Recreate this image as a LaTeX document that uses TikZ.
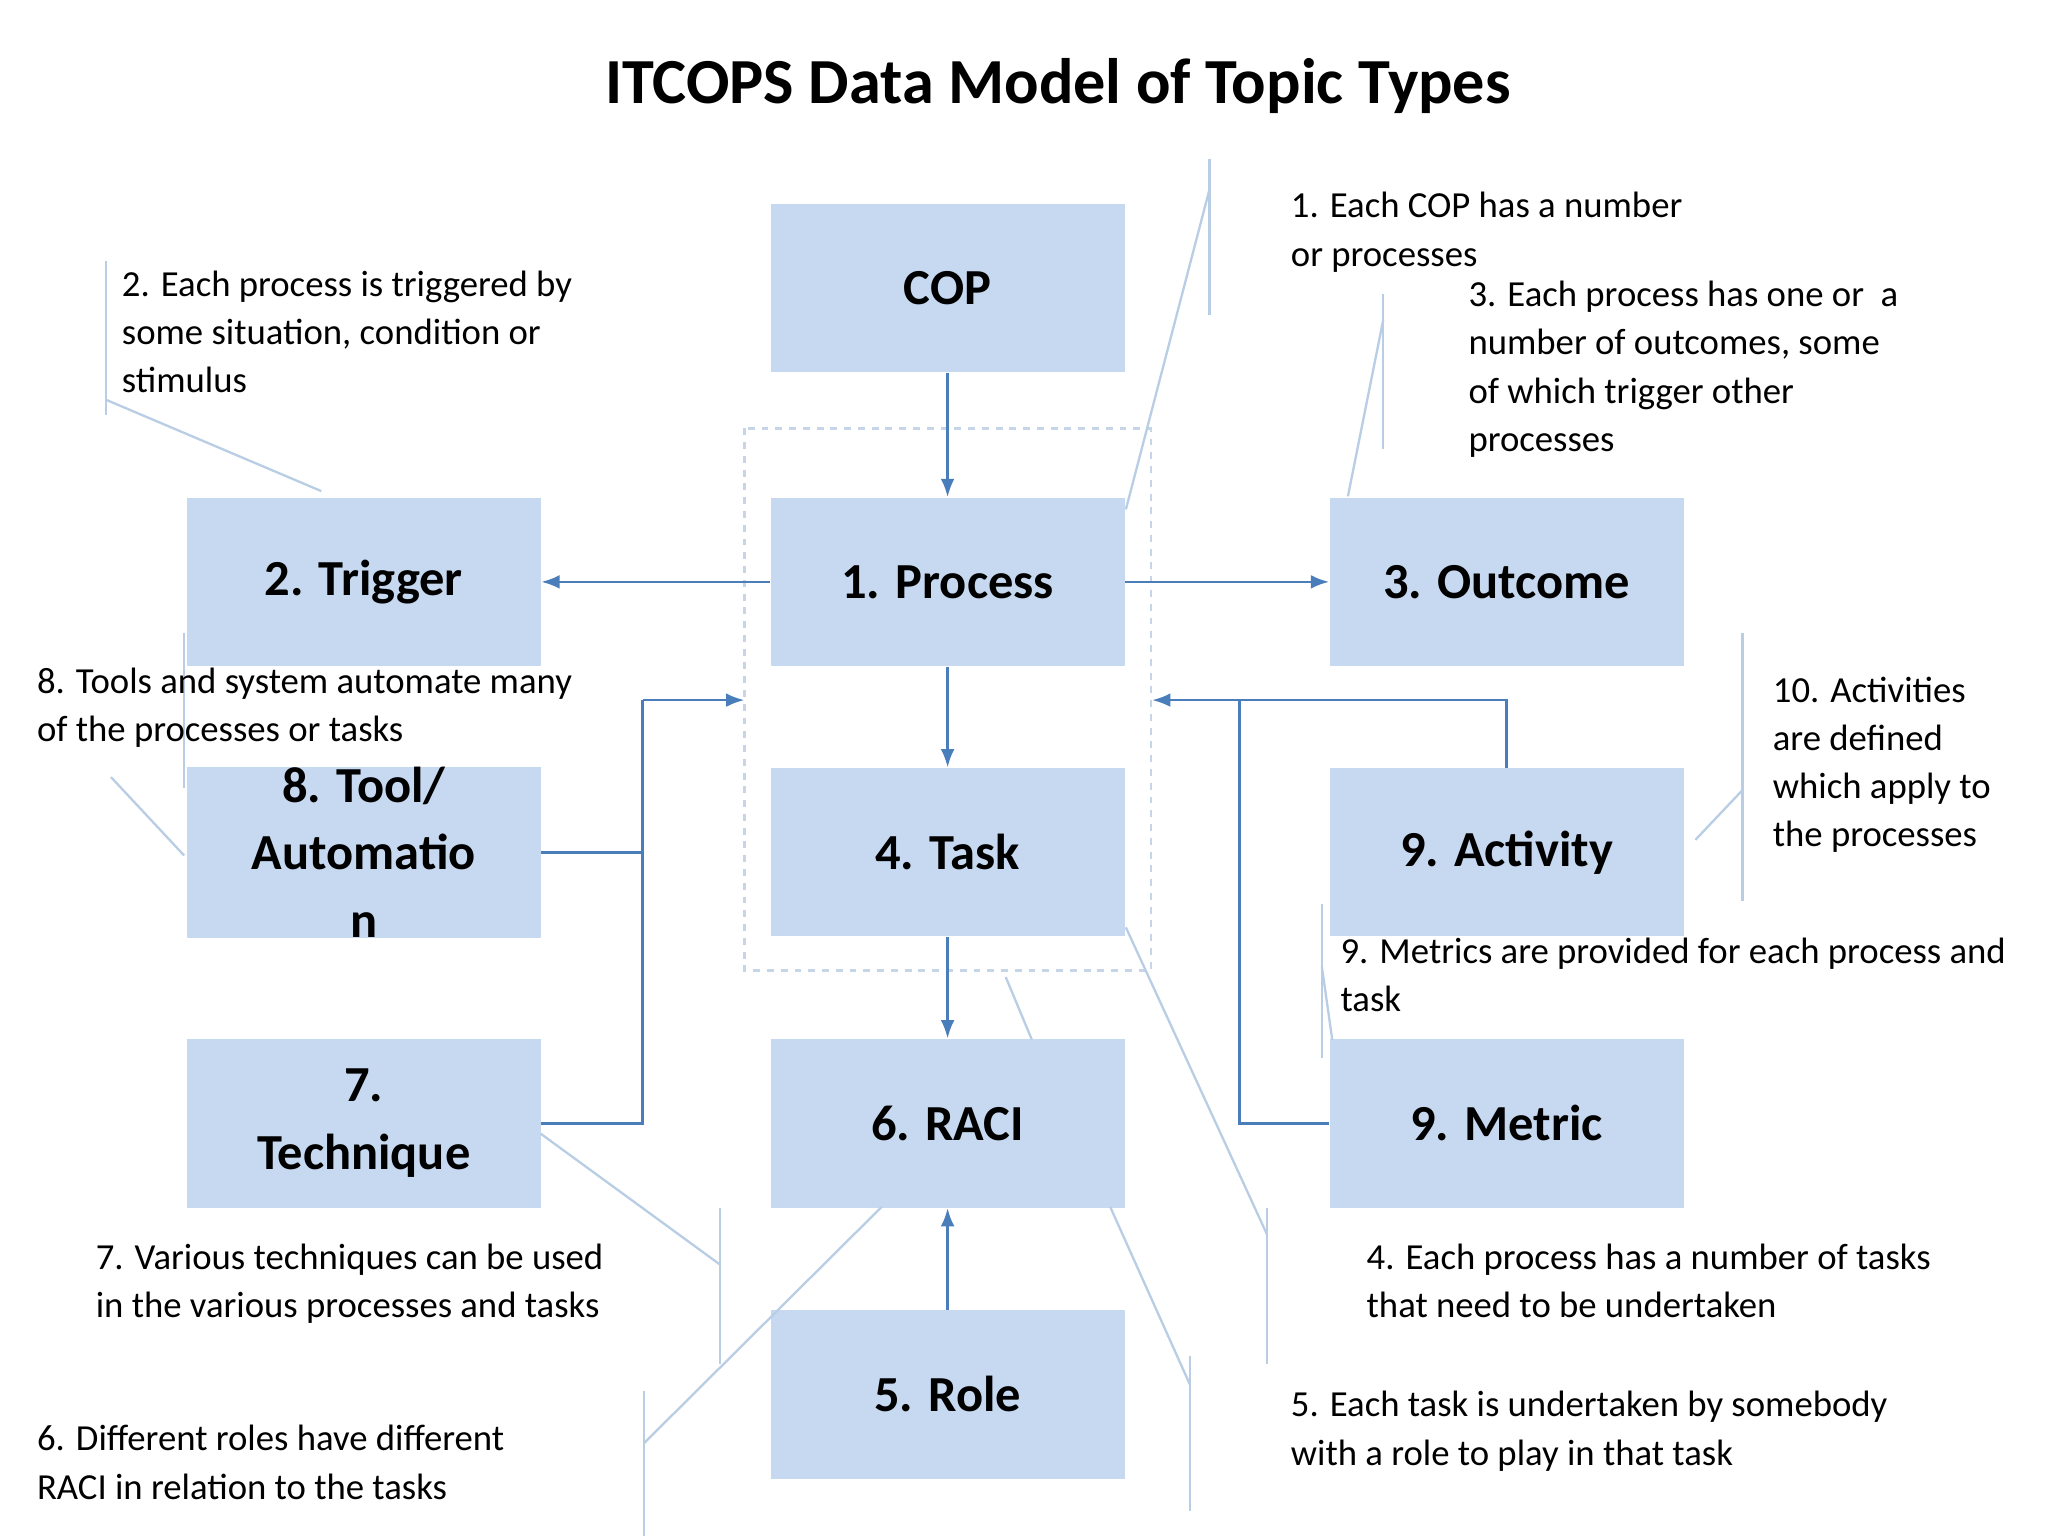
\documentclass[tikz,border=0pt]{standalone}
\usepackage{fontspec}
\setmainfont{Carlito}
\definecolor{boxfill}{HTML}{C6D9F0}
\definecolor{arr}{HTML}{4A7EBB}
\definecolor{pale}{HTML}{B9CDE5}
\definecolor{dashcol}{HTML}{C6D5E8}
\usetikzlibrary{arrows.meta}
\tikzset{
 tbox/.style={fill=boxfill,draw=none,minimum width=5.42cm,minimum height=2.58cm,font=\fontsize{22}{29.5}\selectfont\bfseries,align=center,inner sep=0pt},
 conn/.style={draw=arr,line width=1.2pt,-{Latex[length=8pt,width=6pt]}},
 plain/.style={draw=arr,line width=1.2pt},
 call/.style={draw=pale,line width=1pt},
 note/.style={anchor=north west,font=\fontsize{16}{21}\selectfont,align=left,inner sep=0pt}
}
\begin{document}
\begin{tikzpicture}[x=0.02cm,y=-0.02cm]
\useasboundingbox (0,0) rectangle (1568,1176);
\fill[white] (0,0) rectangle (1568,1176);
\node[font=\fontsize{28}{34}\selectfont\bfseries] (title) at (810,66) {ITCOPS Data Model of Topic Types};
\draw[dashcol,dashed,line width=1pt] (570,328) rectangle (881,743);
\node[tbox] (cop) at (725.5,220.5) {COP};
\node[tbox] (proc) at (725.5,445.5) {1. Process};
\node[tbox] (trig) at (278.5,445.5) {2. Trigger};
\node[tbox] (out) at (1153.5,445.5) {3. Outcome};
\node[tbox] (tool) at (278.5,652.5) {8. Tool/\\Automatio\\n};
\node[tbox] (task) at (725.5,652.5) {4. Task};
\node[tbox] (act) at (1153.5,652.5) {9. Activity};
\node[tbox] (tech) at (278.5,860) {7.\\Technique};
\node[tbox] (raci) at (725.5,860) {6. RACI};
\node[tbox] (met) at (1153.5,860) {9. Metric};
\node[tbox] (role) at (725.5,1067.5) {5. Role};
\coordinate (dl) at (570,536);
\coordinate (dr) at (882,536);
\draw[conn] (cop) -- (proc);
\draw[conn] (proc) -- (trig);
\draw[conn] (proc) -- (out);
\draw[conn] (proc) -- (task);
\draw[conn] (task) -- (raci);
\draw[conn] (role) -- (raci);
\draw[plain] (tool.east) -- (492,652.5);
\draw[plain] (tech.east) -- (492,860) -- (492,536);
\draw[conn] (492,536) -- (dl);
\draw[conn] (act.north) |- (dr);
\draw[plain] (met.west) -- (949,860) -- (949,536);
\draw[call] (926,122) -- (926,241); \draw[call] (926,145) -- (862,390);
\node[note] (n1) at (988,147) {1. Each COP has a number\\or processes};
\draw[call] (81,200) -- (81,318); \draw[call] (81,306) -- (246,376);
\node[note] (n2) at (93,207) {2. Each process is triggered by\\some situation, condition or\\stimulus};
\draw[call] (1059,225) -- (1059,344); \draw[call] (1059,245) -- (1032,380);
\node[note] (n3) at (1124,215) {3. Each process has one or\ \ a\\number of outcomes, some\\of which trigger other\\processes};
\draw[call] (141,485) -- (141,603); \draw[call] (85,595) -- (141,655);
\node[note] (n8) at (28,511) {8. Tools and system automate many\\of the processes or tasks};
\draw[call] (1334,485) -- (1334,690); \draw[call] (1334,605) -- (1298,643);
\node[note] (n10) at (1357,518) {10. Activities\\are defined\\which apply to\\the processes};
\draw[call] (1012,692) -- (1012,810); \draw[call] (1012,740) -- (1020,796);
\node[note] (n9) at (1026,718) {9. Metrics are provided for each process and\\task};
\draw[call] (551,925) -- (551,1044); \draw[call] (414,868) -- (551,968);
\node[note] (n7) at (73,952) {7. Various techniques can be used\\in the various processes and tasks};
\draw[call] (970,925) -- (970,1044); \draw[call] (862,710) -- (970,945);
\node[note] (n4) at (1046,952) {4. Each process has a number of tasks\\that need to be undertaken};
\draw[call] (493,1065) -- (493,1176); \draw[call] (493,1105) -- (675,924);
\node[note] (n6) at (28,1091) {6. Different roles have different\\RACI in relation to the tasks};
\draw[call] (911,1038) -- (911,1157); \draw[call] (850,924) -- (911,1060);
\node[note] (n5) at (988,1065) {5. Each task is undertaken by somebody\\with a role to play in that task};
\draw[call] (770,748) -- (790,796);
\end{tikzpicture}
\end{document}
